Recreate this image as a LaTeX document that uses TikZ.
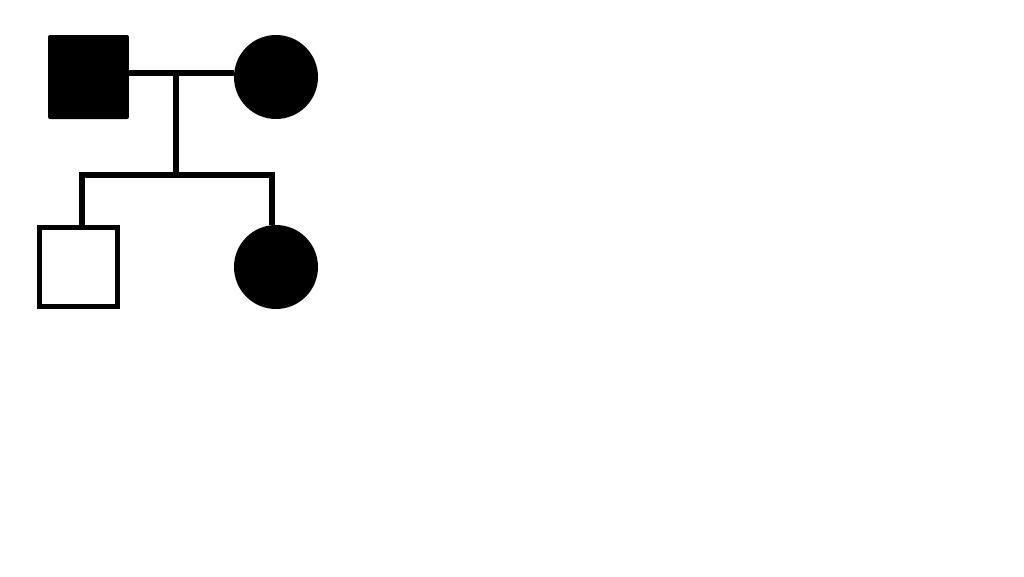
\documentclass[tikz,border=0pt]{standalone}
\usetikzlibrary{shapes,positioning,calc}

\begin{document}
\begin{tikzpicture}[x=0.02cm, y=-0.02cm]
\tikzstyle{affmale} = [rectangle, fill=black, inner sep=0pt, minimum width=1.62cm, minimum height=1.68cm, rounded corners=0.04cm]
\tikzstyle{male} = [rectangle, draw=black, fill=white, line width=0.1cm, inner sep=0pt, minimum width=1.56cm, minimum height=1.58cm]
\tikzstyle{afffemale} = [circle, fill=black, inner sep=0pt, minimum size=1.68cm]
\tikzstyle{line} = [line width=0.12cm, line join=miter]

\useasboundingbox (0,0) rectangle (1024,576);

\node [affmale] (father) at (88.5,77) {};
\node [afffemale] (mother) at (276,77) {};
\node [male] (son) at (78.5,267) {};
\node [afffemale] (daughter) at (276,267) {};

\coordinate (mate) at (176,73);
\coordinate (sib) at (176,175);
\coordinate (sibL) at (82,175);
\coordinate (sibR) at (272,175);

\draw [line] (father.east |- mate) -- (mother.west |- mate);
\draw [line] (mate) -- (sib);
\draw [line] (sibL |- son.north) -- (sibL) -- (sibR) -- (sibR |- daughter.north);
\end{tikzpicture}
\end{document}
